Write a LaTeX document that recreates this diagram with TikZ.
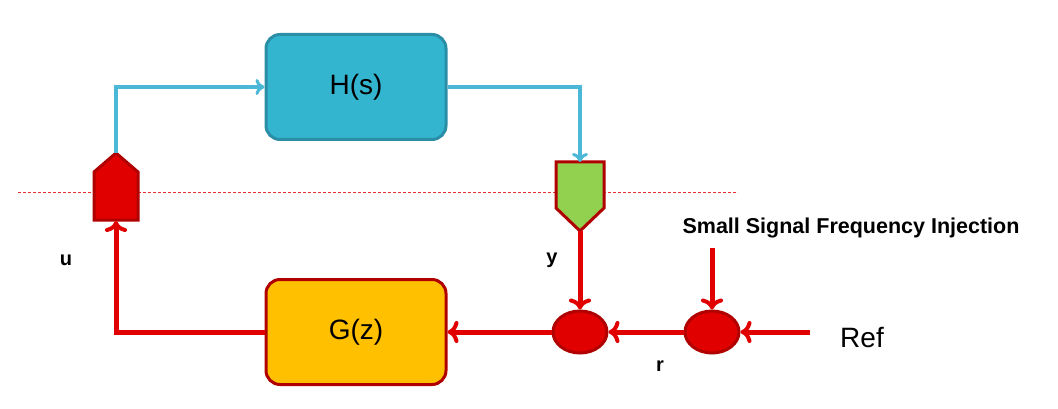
\documentclass[tikz,border=0pt]{standalone}
\usepackage{fontspec}
\setmainfont{Liberation Sans}
\usetikzlibrary{arrows.meta,shapes.geometric}
\definecolor{hb}{HTML}{33B5D0}\definecolor{hbd}{HTML}{2A8FA6}
\definecolor{gy}{HTML}{FFC000}\definecolor{dr}{HTML}{B00000}
\definecolor{rr}{HTML}{E00000}\definecolor{gg}{HTML}{92D050}
\definecolor{bl}{HTML}{4BB8D8}\definecolor{dl}{HTML}{E83030}
\tikzset{
 blk/.style={draw,line width=3pt,rounded corners=14pt,minimum width=180pt,minimum height=105pt,font=\fontsize{28}{30}\selectfont},
 rd/.style={draw=rr,line width=5pt,-{To[length=11pt,width=22pt,line width=4pt]}},
 bu/.style={draw=bl,line width=3.5pt,-{To[length=9pt,width=16pt,line width=3pt]}},
 sum/.style={ellipse,draw=dr,fill=rr,line width=3pt,minimum width=54pt,minimum height=42pt},
 lb/.style={font=\bfseries\fontsize{20}{22}\selectfont}
}
\begin{document}
\begin{tikzpicture}[x=1pt,y=-1pt]
\useasboundingbox (0,0) rectangle (1058,409);
\node[blk,fill=hb,draw=hbd] (H) at (356,87) {H(s)};
\node[blk,fill=gy,draw=dr] (G) at (356,332) {G(z)};
\draw[draw=dl,line width=1pt,dash pattern=on 3pt off 2pt] (18,193) -- (738,193);
\draw[fill=rr,draw=dr,line width=3pt] (94,220) -- (94,172) -- (116,153) -- (138,172) -- (138,220) -- cycle;
\coordinate (ut) at (116,153); \coordinate (ub) at (116,221);
\draw[fill=gg,draw=dr,line width=3pt] (556,162) -- (604,162) -- (604,208) -- (580,231) -- (556,208) -- cycle;
\coordinate (yt) at (580,162); \coordinate (yb) at (580,231);
\node[sum] (s1) at (580,332) {};
\node[sum] (s2) at (712,332) {};
\coordinate (inj) at (712,248);
\coordinate (ref) at (810,332);
\draw[bu] (ut) -- (116,87) -- (H.west);
\draw[bu] (H.east) -- (580,87) -- (yt);
\draw[rd] (yb) -- (s1.north);
\draw[rd] (inj) -- (s2.north);
\draw[rd] (ref) -- (s2.east);
\draw[rd] (s2.west) -- (s1.east);
\draw[rd] (s1.west) -- (G.east);
\draw[rd] (G.west) -- (116,332) -- (ub);
\node[lb] (lu) at (66,260) {u};
\node[lb] (ly) at (552,260) {y};
\node[lb] (lr) at (660,366) {r};
\node[lb,font=\bfseries\fontsize{21.5}{23}\selectfont] (li) at (851,228) {Small Signal Frequency Injection};
\node[font=\fontsize{28}{30}\selectfont] (lref) at (862,338) {Ref};
\end{tikzpicture}
\end{document}
